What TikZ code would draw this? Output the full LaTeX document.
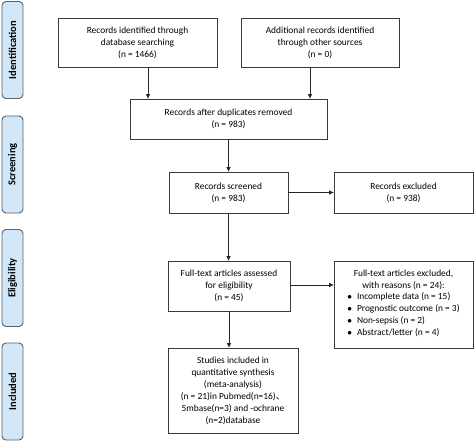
\documentclass[tikz,border=0pt]{standalone}
\usepackage{fontspec}
\setmainfont{Carlito}
\newfontfamily\cjk{Noto Sans CJK SC}
\usetikzlibrary{arrows.meta}
\definecolor{sidefill}{HTML}{D2E7F8}
\definecolor{sidedraw}{HTML}{56616B}
\definecolor{boxdraw}{HTML}{3A3A3A}
\tikzset{
  box/.style={draw=boxdraw, line width=0.8pt, align=center, inner sep=1pt,
    font=\fontsize{9.4}{12}\selectfont},
  side/.style={draw=sidedraw, fill=sidefill, line width=0.9pt, rounded corners=4pt,
    minimum width=97pt, minimum height=21pt, rotate=90, inner sep=0pt,
    font=\bfseries\fontsize{10.5}{12}\selectfont},
  arr/.style={draw=black!85, line width=0.7pt, -{Triangle[length=4.5pt,width=4pt]}}
}
\begin{document}
\begin{tikzpicture}[x=1pt,y=-1pt]
\clip (0,0) rectangle (474,441);
\fill[white] (0,0) rectangle (474,441);
% side labels
\node[side] (sid) at (12.5,50) {Identification};
\node[side] (ssc) at (12.5,164.5) {Screening};
\node[side] (sel) at (12.5,278) {Eligibility};
\node[side] (sin) at (12.5,391.5) {Included};
% boxes
\node[box, minimum width=159pt, minimum height=49pt] (b1) at (137.5,42.5)
  {Records identified through\\database searching\\(n = 1466)};
\node[box, minimum width=158pt, minimum height=49pt] (b2) at (320,42.5)
  {Additional records identified\\through other sources\\(n = 0)};
\node[box, minimum width=197pt, minimum height=40pt] (b3) at (228.5,119)
  {Records after duplicates removed\\(n = 983)};
\node[box, minimum width=119pt, minimum height=41pt] (scr) at (228.5,192.5)
  {Records screened\\(n = 983)};
\node[box, minimum width=139pt, minimum height=41pt] (ex1) at (403.5,192.5)
  {Records excluded\\(n = 938)};
\node[box, minimum width=122pt, minimum height=50pt] (ft) at (229,286)
  {Full-text articles assessed\\for eligibility\\(n = 45)};
\node[box, minimum width=139pt, minimum height=87pt] (ex2) at (403.5,304.5)
  {Full-text articles excluded,\\with reasons (n = 24):\\[1pt]
   \begin{tabular}{@{}l@{\hspace{5pt}}l@{}}
   $\bullet$ & Incomplete data (n = 15)\\
   $\bullet$ & Prognostic outcome (n = 3)\\
   $\bullet$ & Non-sepsis (n = 2)\\
   $\bullet$ & Abstract/letter (n = 4)
   \end{tabular}};
\node[box, minimum width=130pt, minimum height=85pt] (inc) at (233,390.5)
  {Studies included in\\quantitative synthesis\\(meta-analysis)\\(n = 21)in Pubmed(n=16){\cjk 、}\\5mbase(n=3) and -ochrane\\(n=2)database};
% connectors
\draw[arr] ([xshift=10.5pt]b1.south) -- ([xshift=10.5pt]b1.south |- b3.north);
\draw[arr] ([xshift=-10pt]b2.south) -- ([xshift=-10pt]b2.south |- b3.north);
\draw[arr] (b3.south) -- (scr.north);
\draw[arr] (scr.east) -- (ex1.west);
\draw[arr] (scr.south) -- (scr.south |- ft.north);
\draw[arr] ([yshift=1pt]ft.east) -- ([yshift=1pt]ft.east -| ex2.west);
\draw[arr] (ft.south) -- (ft.south |- inc.north);
\end{tikzpicture}
\end{document}
